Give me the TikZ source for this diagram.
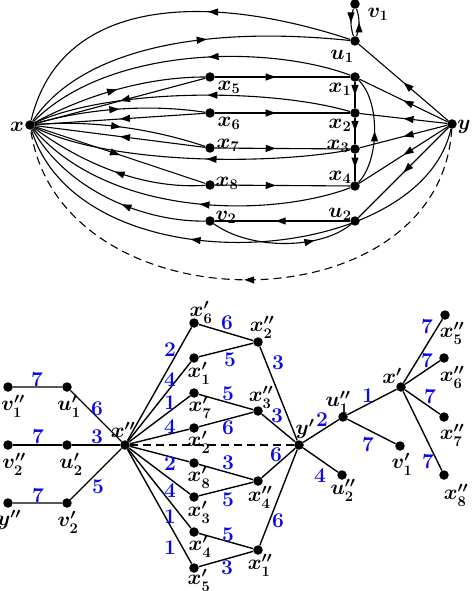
\documentclass[tikz,border=0pt]{standalone}
\usepackage{fix-cm}
\usetikzlibrary{arrows.meta,decorations.markings}
\definecolor{numblue}{RGB}{10,10,230}
\tikzset{
  dot/.style={circle,fill=black,inner sep=0pt,minimum size=9.5pt},
  lab/.style={font=\fontsize{21}{24}\selectfont\boldmath,inner sep=0pt},
  num/.style={font=\fontsize{21}{24}\selectfont\bfseries,text=numblue,inner sep=0pt},
  tedge/.style={line width=1.1pt},
  bedge/.style={line width=1.4pt},
  dashline/.style={dash pattern=on 8pt off 5pt},
  midarrow/.style={postaction={decorate},decoration={markings,mark=at position #1 with {\arrow{Triangle[length=10pt,width=7pt]}}}},
  midarrow/.default=0.5
}
\begin{document}
\begin{tikzpicture}[x=1pt,y=-1pt]
\useasboundingbox (0,0) rectangle (474,591);
% ---------------- top digraph ----------------
\node[dot] (x) at (30,125) {};
\node[dot] (y) at (452,124) {};
\node[dot] (v1) at (355,4) {};
\node[dot] (u1) at (355,41) {};
\node[dot] (x1) at (355,77) {};
\node[dot] (x2) at (355,113) {};
\node[dot] (x3) at (355,149) {};
\node[dot] (x4) at (355,186) {};
\node[dot] (u2) at (355,221) {};
\node[dot] (x5) at (210,77) {};
\node[dot] (x6) at (210,113) {};
\node[dot] (x7) at (210,148) {};
\node[dot] (x8) at (210,185) {};
\node[dot] (v2) at (210,221) {};

\node[lab] (lx) at (17,127) {$x$};
\node[lab] (ly) at (464,127) {$y$};
\node[lab] (lv1) at (378,14) {$v_1$};
\node[lab] (lu1) at (342,56) {$u_1$};
\node[lab] (lx1) at (340,89) {$x_1$};
\node[lab] (lx2) at (340,125) {$x_2$};
\node[lab] (lx3) at (338,146) {$x_3$};
\node[lab] (lx4) at (340,177) {$x_4$};
\node[lab] (lu2) at (340,214) {$u_2$};
\node[lab] (lx5) at (229,87) {$x_5$};
\node[lab] (lx6) at (229,123) {$x_6$};
\node[lab] (lx7) at (228,145) {$x_7$};
\node[lab] (lx8) at (227,183) {$x_8$};
\node[lab] (lv2) at (226,217) {$v_2$};

\begin{scope}[tedge]
% v1 <-> u1
\draw[midarrow] (v1) to[bend right=18] (u1);
\draw[midarrow] (u1) to[bend right=18] (v1);
% long arcs to x
\draw[midarrow=0.39] (u1) .. controls (200,-10) and (60,0) .. (x);
\draw[midarrow=0.58] (x) .. controls (80,50) and (200,25) .. (u1);
\draw[midarrow=0.43] (x1) .. controls (270,45) and (110,45) .. (x);
\draw[midarrow=0.45] (x2) .. controls (270,88) and (110,88) .. (x);
\draw[midarrow=0.45] (x3) .. controls (270,165) and (110,165) .. (x);
\draw[midarrow=0.45] (x4) .. controls (270,218) and (110,218) .. (x);
\draw[midarrow=0.42] (v2) .. controls (150,222) and (70,195) .. (x);
% x <-> x5..x8
\draw[midarrow] (x) .. controls (90,93) and (150,77) .. (x5);
\draw[midarrow] (x5) -- (x);
\draw[midarrow] (x) .. controls (90,108) and (150,104) .. (x6);
\draw[midarrow] (x6) -- (x);
\draw[midarrow] (x) .. controls (90,120) and (150,128) .. (x7);
\draw[midarrow] (x7) -- (x);
\draw[midarrow] (x) -- (x8);
\draw[midarrow] (x8) .. controls (150,189) and (90,169) .. (x);
% xi -> x(i-4)
\draw[midarrow=0.45] (x5) -- (x1);
\draw[midarrow=0.45] (x6) -- (x2);
\draw[midarrow=0.45] (x7) -- (x3);
\draw[midarrow=0.45] (x8) -- (x4);
% v2 <-> u2
\draw[midarrow=0.55] (u2) -- (v2);
\draw[midarrow=0.72] (v2) .. controls (250,250) and (320,250) .. (u2);
% path x1 -> x4 and back
\draw[midarrow] (x1) -- (x2);
\draw[midarrow] (x2) -- (x3);
\draw[midarrow] (x3) -- (x4);
\draw[midarrow] (x4) .. controls (380,160) and (380,100) .. (x1);
% y -> ...
\draw[midarrow] (y) -- (u1);
\draw[midarrow] (y) -- (x1);
\draw[midarrow] (y) -- (x2);
\draw[midarrow] (y) -- (x3);
\draw[midarrow] (y) -- (x4);
\draw[midarrow] (y) -- (u2);
\draw[midarrow=0.6] (y) .. controls (420,270) and (80,290) .. (x);
\draw[dashline,midarrow=0.5] (y) .. controls (440,330) and (60,330) .. (x);
\end{scope}

% ---------------- bottom tree ----------------
\node[dot] (v1pp) at (8,387) {};
\node[dot] (u1p) at (67,387) {};
\node[dot] (xpp) at (125,445) {};
\node[dot] (v2pp) at (8,445) {};
\node[dot] (u2p) at (67,445) {};
\node[dot] (ypp) at (8,503) {};
\node[dot] (v2p) at (67,503) {};
\node[dot] (x6p) at (194,323) {};
\node[dot] (x1p) at (194,358) {};
\node[dot] (x7p) at (194,393) {};
\node[dot] (x2p) at (194,428) {};
\node[dot] (x8p) at (194,463) {};
\node[dot] (x3p) at (194,497) {};
\node[dot] (x4p) at (194,532) {};
\node[dot] (x5p) at (194,568) {};
\node[dot] (x2pp) at (258,342) {};
\node[dot] (x3pp) at (258,411) {};
\node[dot] (x4pp) at (258,481) {};
\node[dot] (x1pp) at (258,550) {};
\node[dot] (yp) at (299,445) {};
\node[dot] (u1pp) at (343,417) {};
\node[dot] (u2pp) at (342,475) {};
\node[dot] (xp) at (401,387) {};
\node[dot] (v1p) at (400,446) {};
\node[dot] (x5pp) at (445,315) {};
\node[dot] (x6pp) at (444,358) {};
\node[dot] (x7pp) at (444,417) {};
\node[dot] (x8pp) at (444,475) {};

\begin{scope}[bedge]
\draw (v1pp) -- (u1p) -- (xpp);
\draw (v2pp) -- (u2p) -- (xpp);
\draw (ypp) -- (v2p) -- (xpp);
\foreach \t in {x6p,x1p,x7p,x2p,x8p,x3p,x4p,x5p} \draw (xpp) -- (\t);
\draw (x6p) -- (x2pp) -- (x1p);
\draw (x7p) -- (x3pp) -- (x2p);
\draw (x8p) -- (x4pp) -- (x3p);
\draw (x4p) -- (x1pp) -- (x5p);
\draw (x2pp) -- (yp);
\draw (x3pp) -- (yp);
\draw (x4pp) -- (yp);
\draw (x1pp) -- (yp);
\draw[dashline] (xpp) -- (yp);
\draw (yp) -- (u1pp) -- (xp);
\draw (yp) -- (u2pp);
\draw (u1pp) -- (v1p);
\draw (xp) -- (x5pp);
\draw (xp) -- (x6pp);
\draw (xp) -- (x7pp);
\draw (xp) -- (x8pp);
\end{scope}

\node[lab] (lv1pp) at (13,406) {$v''_1$};
\node[lab] (lu1p) at (69,406) {$u'_1$};
\node[lab] (lxpp) at (123,430) {$x''$};
\node[lab] (lv2pp) at (14,464) {$v''_2$};
\node[lab] (lu2p) at (71,464) {$u'_2$};
\node[lab] (lypp) at (9,520) {$y''$};
\node[lab] (lv2p) at (68,522) {$v'_2$};
\node[lab] (lx6p) at (201,312) {$x'_6$};
\node[lab] (lx2pp) at (262,327) {$x''_2$};
\node[lab] (lx1p) at (199,373) {$x'_1$};
\node[lab] (lx7p) at (200,407) {$x'_7$};
\node[lab] (lx3pp) at (261,397) {$x''_3$};
\node[lab] (lx2p) at (199,442) {$x'_2$};
\node[lab] (lyp) at (305,429) {$y'$};
\node[lab] (lx8p) at (199,477) {$x'_8$};
\node[lab] (lx4pp) at (260,497) {$x''_4$};
\node[lab] (lx3p) at (199,512) {$x'_3$};
\node[lab] (lx4p) at (200,546) {$x'_4$};
\node[lab] (lx1pp) at (260,565) {$x''_1$};
\node[lab] (lx5p) at (199,580) {$x'_5$};
\node[lab] (lu1pp) at (338,402) {$u''_1$};
\node[lab] (lu2pp) at (343,490) {$u''_2$};
\node[lab] (lxp) at (392,376) {$x'$};
\node[lab] (lv1p) at (402,464) {$v'_1$};
\node[lab] (lx5pp) at (452,333) {$x''_5$};
\node[lab] (lx6pp) at (452,377) {$x''_6$};
\node[lab] (lx7pp) at (452,435) {$x''_7$};
\node[lab] (lx8pp) at (456,495) {$x''_8$};

\node[num] (n1) at (37,380) {7};
\node[num] (n2) at (97,409) {6};
\node[num] (n3) at (38,437) {7};
\node[num] (n4) at (97,437) {3};
\node[num] (n5) at (38,496) {7};
\node[num] (n6) at (98,487) {5};
\node[num] (n7) at (170,350) {2};
\node[num] (n8) at (170,380) {4};
\node[num] (n9) at (170,403) {1};
\node[num] (n10) at (170,427) {4};
\node[num] (n11) at (170,464) {2};
\node[num] (n12) at (170,491) {4};
\node[num] (n13) at (170,517) {1};
\node[num] (n14) at (170,548) {1};
\node[num] (n15) at (227,323) {6};
\node[num] (n16) at (230,360) {5};
\node[num] (n17) at (228,394) {5};
\node[num] (n18) at (228,428) {6};
\node[num] (n19) at (228,463) {3};
\node[num] (n20) at (228,500) {5};
\node[num] (n21) at (228,535) {5};
\node[num] (n22) at (227,568) {3};
\node[num] (n23) at (278,363) {3};
\node[num] (n24) at (277,416) {3};
\node[num] (n25) at (276,455) {6};
\node[num] (n26) at (278,521) {6};
\node[num] (n27) at (322,420) {2};
\node[num] (n28) at (320,476) {4};
\node[num] (n29) at (368,396) {1};
\node[num] (n30) at (368,445) {7};
\node[num] (n31) at (427,327) {7};
\node[num] (n32) at (427,361) {7};
\node[num] (n33) at (430,397) {7};
\node[num] (n34) at (428,462) {7};
\end{tikzpicture}
\end{document}
